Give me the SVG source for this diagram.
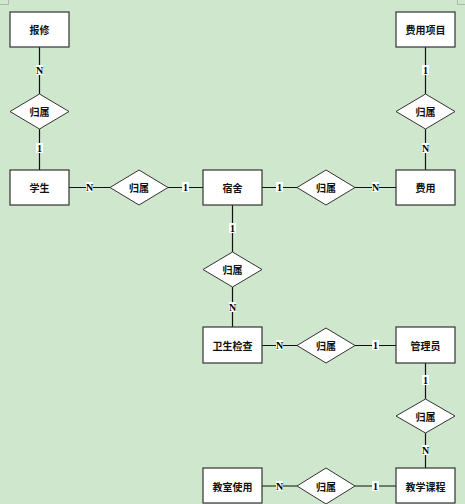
<svg xmlns="http://www.w3.org/2000/svg" width="465" height="504" viewBox="0 0 465 504">
<style>
.ent{fill:#fff;stroke:#333;stroke-width:1.2}
.rel{fill:#fff;stroke:#333;stroke-width:1}
.t{font-family:"Noto Sans CJK SC","Liberation Serif",serif;font-size:10px;font-weight:bold;fill:#111;text-anchor:middle;dominant-baseline:central}
.c{font-family:"Liberation Serif",serif;font-size:10px;font-weight:bold;fill:#000;text-anchor:middle;dominant-baseline:central}
.lb{fill:#fff}
.ln{stroke:#111;stroke-width:1.2;fill:none}
</style>
<rect width="465" height="504" fill="#cfe7cc"/>
<path d="M0 4.5H8.5V0M465 4.5H457.5V0" stroke="#aaa" stroke-width="0.8" fill="none"/>
<g id="connectors">
<path class="ln" d="M39.5 47V94M39.5 129V170"/>
<path class="ln" d="M69 187.5H110M168 187.5H203"/>
<path class="ln" d="M425.5 47V94M425.5 129V170"/>
<path class="ln" d="M262 187.5H297M355 187.5H396"/>
<path class="ln" d="M232.5 205V252M232.5 287V327"/>
<path class="ln" d="M262 345.5H297M355 345.5H396"/>
<path class="ln" d="M425.5 363V399M425.5 433V468"/>
<path class="ln" d="M262 486H297M355 486H396"/>
<g id="cards">
<rect class="lb" x="36" y="65" width="7" height="10"/><text class="c" x="39.5" y="70.5">N</text>
<rect class="lb" x="36" y="143" width="7" height="10"/><text class="c" x="39.5" y="148">1</text>
<rect class="lb" x="86" y="182" width="7" height="10"/><text class="c" x="89.5" y="187.5">N</text>
<rect class="lb" x="182" y="182" width="7" height="10"/><text class="c" x="185.5" y="187.5">1</text>
<rect class="lb" x="422" y="65" width="7" height="10"/><text class="c" x="425.5" y="70.5">1</text>
<rect class="lb" x="422" y="143" width="7" height="10"/><text class="c" x="425.5" y="148">N</text>
<rect class="lb" x="276" y="182" width="7" height="10"/><text class="c" x="279.5" y="187.5">1</text>
<rect class="lb" x="372" y="182" width="7" height="10"/><text class="c" x="375.5" y="187.5">N</text>
<rect class="lb" x="229" y="223" width="7" height="10"/><text class="c" x="232.5" y="228.5">1</text>
<rect class="lb" x="229" y="302" width="7" height="10"/><text class="c" x="232.5" y="307">N</text>
<rect class="lb" x="276" y="340" width="7" height="10"/><text class="c" x="279.5" y="345.5">N</text>
<rect class="lb" x="372" y="340" width="7" height="10"/><text class="c" x="375.5" y="345.5">1</text>
<rect class="lb" x="422" y="375" width="7" height="10"/><text class="c" x="425.5" y="380">1</text>
<rect class="lb" x="422" y="445" width="7" height="10"/><text class="c" x="425.5" y="450">N</text>
<rect class="lb" x="276" y="481" width="7" height="10"/><text class="c" x="279.5" y="486">N</text>
<rect class="lb" x="372" y="481" width="7" height="10"/><text class="c" x="375.5" y="486">1</text>
</g>
</g>
<g id="baoxiu"><rect class="ent" x="10" y="12" width="59" height="35"/><text class="t" x="39.5" y="29.5">报修</text></g>
<g id="xuesheng"><rect class="ent" x="10" y="170" width="59" height="35"/><text class="t" x="39.5" y="187.5">学生</text></g>
<g id="sushe"><rect class="ent" x="203" y="170" width="59" height="35"/><text class="t" x="232.5" y="187.5">宿舍</text></g>
<g id="feiyongxiangmu"><rect class="ent" x="396" y="12" width="59" height="35"/><text class="t" x="425.5" y="29.5">费用项目</text></g>
<g id="feiyong"><rect class="ent" x="396" y="170" width="59" height="35"/><text class="t" x="425.5" y="187.5">费用</text></g>
<g id="weishengjiancha"><rect class="ent" x="203" y="327" width="59" height="36"/><text class="t" x="232.5" y="345.5">卫生检查</text></g>
<g id="guanliyuan"><rect class="ent" x="396" y="327" width="59" height="36"/><text class="t" x="425.5" y="345.5">管理员</text></g>
<g id="jiaoshishiyong"><rect class="ent" x="203" y="468" width="59" height="35"/><text class="t" x="232.5" y="486">教室使用</text></g>
<g id="jiaoxuekecheng"><rect class="ent" x="396" y="468" width="59" height="35"/><text class="t" x="425.5" y="486">教学课程</text></g>
<g id="r1"><polygon class="rel" points="39.5,94 69,111.5 39.5,129 10,111.5"/><text class="t" x="39.5" y="111.5">归属</text></g>
<g id="r2"><polygon class="rel" points="139,170 168,187.5 139,205 110,187.5"/><text class="t" x="139" y="187.5">归属</text></g>
<g id="r3"><polygon class="rel" points="425.5,94 455,111.5 425.5,129 396,111.5"/><text class="t" x="425.5" y="111.5">归属</text></g>
<g id="r4"><polygon class="rel" points="326,170 355,187.5 326,205 297,187.5"/><text class="t" x="326" y="187.5">归属</text></g>
<g id="r5"><polygon class="rel" points="232.5,252 262,269.5 232.5,287 203,269.5"/><text class="t" x="232.5" y="269.5">归属</text></g>
<g id="r6"><polygon class="rel" points="326,328 355,345.5 326,363 297,345.5"/><text class="t" x="326" y="345.5">归属</text></g>
<g id="r7"><polygon class="rel" points="425.5,399 455,416 425.5,433 396,416"/><text class="t" x="425.5" y="416">归属</text></g>
<g id="r8"><polygon class="rel" points="326,468 355,486 326,504 297,486"/><text class="t" x="326" y="486">归属</text></g>
</svg>
